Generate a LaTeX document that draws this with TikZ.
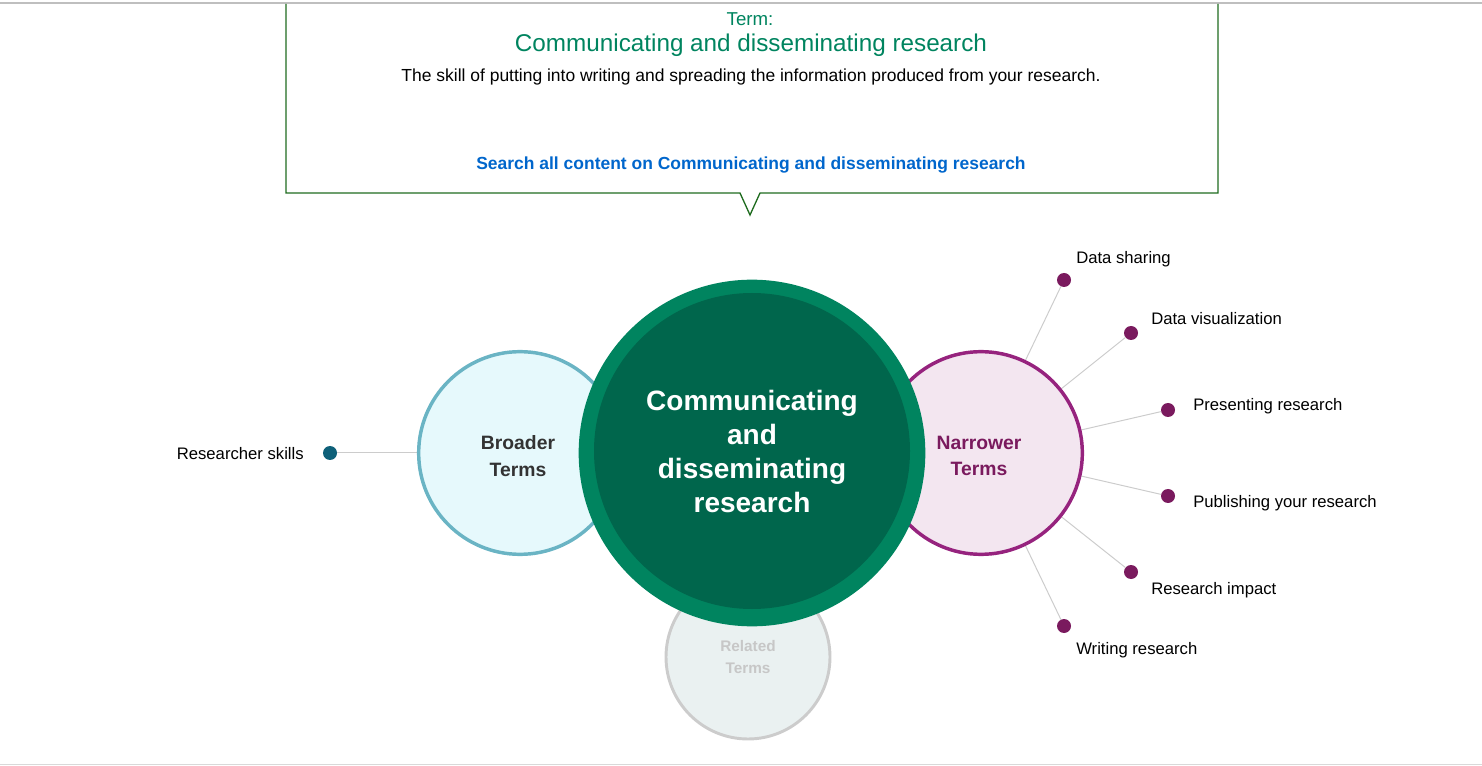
\documentclass[tikz,border=0pt]{standalone}
\usepackage{fontspec}
\setmainfont{Liberation Sans}
\definecolor{tgreen}{HTML}{00845F}
\definecolor{dgreen}{HTML}{00664C}
\definecolor{boxgreen}{HTML}{1E6B1E}
\definecolor{linkblue}{HTML}{0066CC}
\definecolor{bstroke}{HTML}{6AB4C4}
\definecolor{bfill}{HTML}{E6F9FC}
\definecolor{nstroke}{HTML}{96237E}
\definecolor{nfill}{HTML}{F3E6F0}
\definecolor{ntext}{HTML}{7A1A5E}
\definecolor{bdot}{HTML}{0E6079}
\definecolor{rfill}{HTML}{EAF1F1}
\definecolor{rstroke}{HTML}{CCCCCC}
\tikzset{
  spoke/.style={draw=black!20, line width=0.75pt},
  ndot/.style={circle, fill=ntext, inner sep=0, minimum size=10.5pt},
  lbl/.style={font=\fontsize{12.5}{14}\selectfont, inner sep=0},
  ctext/.style={align=center, inner sep=0, font=\bfseries\fontsize{14.5}{20}\selectfont},
}
\begin{document}
\begin{tikzpicture}[x=0.75pt,y=-0.75pt]
\useasboundingbox (0,0) rectangle (1482,766);
\draw[black!25, line width=1.5pt] (0,3) -- (1482,3);
\draw[black!15, line width=0.75pt] (0,764) -- (1482,764);
% callout
\draw[boxgreen, line width=1pt] (286,4) -- (286,193) -- (740,193) -- (750,215) -- (760,193) -- (1218,193) -- (1218,4);
\node[text=tgreen, font=\fontsize{14}{15}\selectfont] (term) at (750,19) {Term:};
\node[text=tgreen, font=\fontsize{18.2}{19}\selectfont] (title) at (751,45) {Communicating and disseminating research};
\node[font=\fontsize{13.1}{14}\selectfont] (desc) at (751,77) {The skill of putting into writing and spreading the information produced from your research.};
\node[text=linkblue, font=\bfseries\fontsize{13.1}{14}\selectfont] (link) at (751,165) {Search all content on Communicating and disseminating research};
% centers
\coordinate (bc) at (520,453);
\coordinate (nc) at (981,453);
% spokes
\node[circle, fill=bdot, inner sep=0, minimum size=10.5pt] (rs) at (330,453) {};
\draw[spoke] (rs) -- (bc);
\node[lbl, anchor=east] (rsl) at (304,454) {Researcher skills};
\node[ndot] (d1) at (1064,280) {};
\node[ndot] (d2) at (1131,333) {};
\node[ndot] (d3) at (1168,410) {};
\node[ndot] (d4) at (1168,496) {};
\node[ndot] (d5) at (1131,572) {};
\node[ndot] (d6) at (1064,626) {};
\foreach \d in {d1,d2,d3,d4,d5,d6} \draw[spoke] (\d) -- (nc);
\node[lbl, anchor=west] (l1) at (1076,259) {Data sharing};
\node[lbl, anchor=west] (l2) at (1151,319) {Data visualization};
\node[lbl, anchor=west] (l3) at (1193,406) {Presenting research};
\node[lbl, anchor=west] (l4) at (1193,503) {Publishing your research};
\node[lbl, anchor=west] (l5) at (1151,590) {Research impact};
\node[lbl, anchor=west] (l6) at (1076,650) {Writing research};
% circles
\node[circle, draw=rstroke, fill=rfill, line width=2.2pt, minimum size=123pt, inner sep=0, align=center, text=black!22, font=\bfseries\fontsize{11.5}{16}\selectfont] (rel) at (748,657) {Related\\Terms};
\node[circle, draw=bstroke, fill=bfill, line width=2.6pt, minimum size=152pt, inner sep=0] (bro) at (bc) {};
\node[ctext, text=black!80] (brot) at (518,456) {Broader\\Terms};
\node[circle, draw=nstroke, fill=nfill, line width=2.6pt, minimum size=152pt, inner sep=0] (nar) at (nc) {};
\node[ctext, text=ntext] (nart) at (979,456) {Narrower\\Terms};
\node[circle, fill=tgreen, minimum size=260pt, inner sep=0] (mo) at (752,453) {};
\node[circle, fill=dgreen, minimum size=237pt, inner sep=0, align=center, text=white, font=\bfseries\fontsize{21}{25.5}\selectfont] (mi) at (752,451) {Communicating\\and\\disseminating\\research};
\end{tikzpicture}
\end{document}
